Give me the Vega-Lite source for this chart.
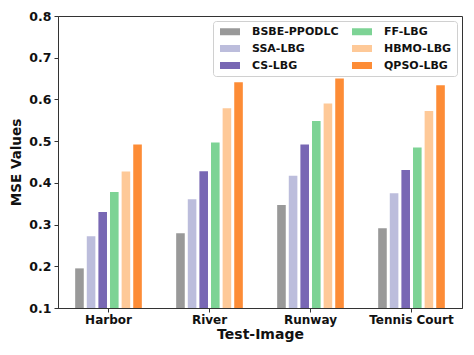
{
  "$schema": "https://vega.github.io/schema/vega-lite/v6.json",
  "width": 404,
  "height": 292,
  "autosize": {"type": "none"},
  "padding": {"left": 58, "top": 16, "right": 12, "bottom": 47},
  "config": {
    "font": "DejaVu Sans",
    "view": {"stroke": "#333333", "strokeWidth": 1},
    "axis": {"domainColor": "#333333", "tickColor": "#333333", "labelColor": "#111111", "titleColor": "#111111", "labelFontWeight": "bold", "titleFontWeight": "bold", "grid": false}
  },
  "data": {
    "values": [
      {"image": "Harbor", "method": "BSBE-PPODLC", "mse": 0.195},
      {"image": "Harbor", "method": "SSA-LBG", "mse": 0.272},
      {"image": "Harbor", "method": "CS-LBG", "mse": 0.330},
      {"image": "Harbor", "method": "FF-LBG", "mse": 0.378},
      {"image": "Harbor", "method": "HBMO-LBG", "mse": 0.427},
      {"image": "Harbor", "method": "QPSO-LBG", "mse": 0.492},
      {"image": "River", "method": "BSBE-PPODLC", "mse": 0.279},
      {"image": "River", "method": "SSA-LBG", "mse": 0.361},
      {"image": "River", "method": "CS-LBG", "mse": 0.428},
      {"image": "River", "method": "FF-LBG", "mse": 0.497},
      {"image": "River", "method": "HBMO-LBG", "mse": 0.579},
      {"image": "River", "method": "QPSO-LBG", "mse": 0.641},
      {"image": "Runway", "method": "BSBE-PPODLC", "mse": 0.347},
      {"image": "Runway", "method": "SSA-LBG", "mse": 0.417},
      {"image": "Runway", "method": "CS-LBG", "mse": 0.492},
      {"image": "Runway", "method": "FF-LBG", "mse": 0.548},
      {"image": "Runway", "method": "HBMO-LBG", "mse": 0.590},
      {"image": "Runway", "method": "QPSO-LBG", "mse": 0.650},
      {"image": "Tennis Court", "method": "BSBE-PPODLC", "mse": 0.291},
      {"image": "Tennis Court", "method": "SSA-LBG", "mse": 0.375},
      {"image": "Tennis Court", "method": "CS-LBG", "mse": 0.431},
      {"image": "Tennis Court", "method": "FF-LBG", "mse": 0.485},
      {"image": "Tennis Court", "method": "HBMO-LBG", "mse": 0.572},
      {"image": "Tennis Court", "method": "QPSO-LBG", "mse": 0.634}
    ]
  },
  "mark": {"type": "bar", "clip": true},
  "encoding": {
    "x": {
      "field": "image", "type": "nominal", "sort": null,
      "scale": {"paddingInner": 0.34, "paddingOuter": 0.17},
      "axis": {"title": "Test-Image", "labelAngle": 0, "labelFontSize": 12, "titleFontSize": 14, "tickSize": 4, "labelPadding": 2, "titlePadding": 2}
    },
    "xOffset": {
      "field": "method", "type": "nominal", "sort": null,
      "scale": {"paddingInner": 0.26}
    },
    "y": {
      "field": "mse", "type": "quantitative",
      "scale": {"domain": [0.1, 0.8], "nice": false, "zero": false},
      "axis": {"title": "MSE Values", "values": [0.1, 0.2, 0.3, 0.4, 0.5, 0.6, 0.7, 0.8], "format": ".1f", "labelFontSize": 12.5, "titleFontSize": 13.5, "tickSize": 4, "labelPadding": 3, "titlePadding": 5}
    },
    "color": {
      "field": "method", "type": "nominal", "sort": null,
      "scale": {
        "domain": ["BSBE-PPODLC", "SSA-LBG", "CS-LBG", "FF-LBG", "HBMO-LBG", "QPSO-LBG"],
        "range": ["#999999", "#bcbddc", "#7867b4", "#7dd395", "#fec998", "#fd8c36"]
      },
      "legend": {
        "title": null, "orient": "none", "legendX": 155, "legendY": 5,
        "columns": 2, "direction": "vertical",
        "columnPadding": 11, "rowPadding": 5,
        "symbolType": "M-1,-1L4.71,-1L4.71,1L-1,1Z", "symbolSize": 49, "symbolStrokeWidth": 0, "symbolOpacity": 1,
        "labelFontSize": 11, "labelFontWeight": "bold", "labelColor": "#111111", "labelOffset": 23,
        "padding": 5, "fillColor": "white", "strokeColor": "#d0d0d0", "cornerRadius": 3
      }
    }
  }
}
